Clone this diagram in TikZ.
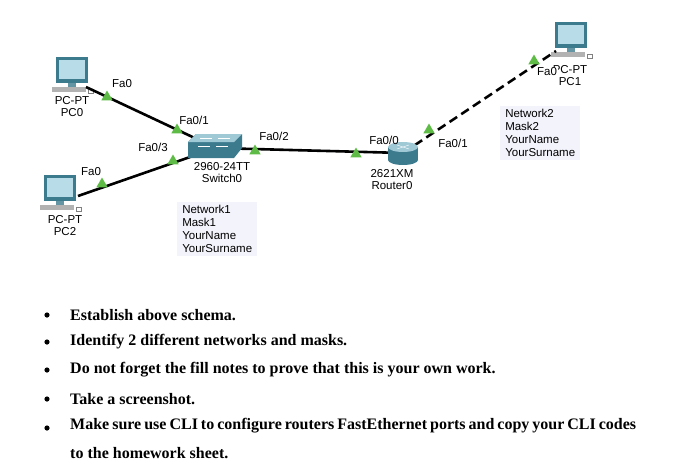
\documentclass[tikz,border=0pt]{standalone}
\usepackage{fontspec}
\setmainfont{Liberation Serif}
\newfontfamily\arial{Liberation Sans}
\usetikzlibrary{shapes.geometric}
\definecolor{scr}{HTML}{B9DDE8}
\definecolor{frm}{HTML}{3C7A8E}
\definecolor{tri}{HTML}{5DBB46}
\definecolor{note}{HTML}{F3F3FB}
\begin{document}
\begin{tikzpicture}[x=1pt,y=-1pt,
 lbl/.style={font=\arial\fontsize{11.5}{12}\selectfont,inner sep=1pt,align=center},
 link/.style={line width=2.6pt,black},
 tr/.style={fill=tri,regular polygon,regular polygon sides=3,minimum size=13pt,inner sep=0pt},
 nt/.style={fill=note,font=\arial\fontsize{11.5}{13}\selectfont,align=left,inner sep=3pt,minimum width=80pt},
 bul/.style={font=\bfseries\fontsize{16}{29}\selectfont,anchor=west,inner sep=0pt}]
\useasboundingbox (0,0) rectangle (682,471);
\newcommand\pcicon[3]{%
 \fill[frm] (#1-16,#2-15) rectangle (#1+16,#2+11);
 \fill[scr] (#1-13,#2-12) rectangle (#1+13,#2+7);
 \fill[frm!80] (#1-4,#2+11) rectangle (#1+4,#2+15);
 \fill[gray!60] (#1-20,#2+15) rectangle (#1+14,#2+20);
 \draw[gray] (#1+16,#2+17) rectangle (#1+21,#2+21);
 \coordinate (#3) at (#1,#2);}
% PCs
\pcicon{72}{72}{pc0}
\pcicon{60}{190}{pc2}
\pcicon{571}{37}{pc1}
\coordinate (pc0p) at (86,87);
\coordinate (pc2p) at (78,196);
\coordinate (pc1p) at (556,51);
\node[lbl] (pc0l) at (72,107) {PC-PT\\PC0};
\node[lbl] (pc2l) at (65,226) {PC-PT\\PC2};
\node[lbl] (pc1l) at (570,76) {PC-PT\\PC1};
% links
\coordinate (sw) at (216,148);
\coordinate (rt) at (403,153);
\draw[link] (pc0p) -- (sw);
\draw[link] (pc2p) -- (sw);
\draw[link] (sw) -- (rt);
\draw[link,dash pattern=on 9pt off 5pt] (rt) -- (pc1p);
% switch
\fill[frm] (188,142) -- (196,134) -- (242,134) -- (242,148) -- (234,158) -- (188,158) -- cycle;
\fill[scr!80!frm] (188,142) -- (196,134) -- (242,134) -- (234,142) -- cycle;
\draw[white,thin] (200,138)--(212,138) (218,138)--(230,138) (198,146)--(210,146) (216,146)--(228,146);
\node[lbl] (swl) at (222,173) {2960-24TT\\Switch0};
% router
\fill[frm] (388,147) rectangle (418,160);
\fill[frm] (403,160) ellipse (15 and 5);
\fill[scr!80!frm] (403,147) ellipse (15 and 5);
\draw[white,thin] (397,145)--(409,149) (397,149)--(409,145);
\node[lbl] (rtl) at (392,180) {2621XM\\Router0};
% triangles
\node[tr] (t1) at (107,97) {};
\node[tr] (t2) at (177,130) {};
\node[tr] (t3) at (102,184) {};
\node[tr] (t4) at (173,161) {};
\node[tr] (t5) at (255,151) {};
\node[tr] (t6) at (356,154) {};
\node[tr] (t7) at (429,130) {};
\node[tr] (t8) at (534,61) {};
% port labels
\node[lbl] (l1) at (122,84) {Fa0};
\node[lbl] (l2) at (194,120) {Fa0/1};
\node[lbl] (l3) at (91,172) {Fa0};
\node[lbl] (l4) at (153,147) {Fa0/3};
\node[lbl] (l5) at (274,136) {Fa0/2};
\node[lbl] (l6) at (384,140) {Fa0/0};
\node[lbl] (l7) at (453,143) {Fa0/1};
\node[lbl,fill=white] (l8) at (547,72) {Fa0};
% notes
\node[nt,anchor=north west] (n1) at (177,202) {Network1\\Mask1\\YourName\\YourSurname};
\node[nt,anchor=north west] (n2) at (500,106) {Network2\\Mask2\\YourName\\YourSurname};
% bullets
\foreach \y in {315,342,370,399,428} \fill (47,\y) circle (2.6);
\node[bul] (b1) at (70,315) {Establish above schema.};
\node[bul] (b2) at (70,342) {Identify 2 different networks and masks.};
\node[bul] (b3) at (70,370) {Do not forget the fill notes to prove that this is your own work.};
\node[bul] (b4) at (70,399) {Take a screenshot.};
\node[bul,anchor=north west,text width=566pt,align=justify] (b5) at (70,418)
 {Make sure use CLI to configure routers FastEthernet ports and copy your CLI codes to the homework sheet.};
\end{tikzpicture}
\end{document}
